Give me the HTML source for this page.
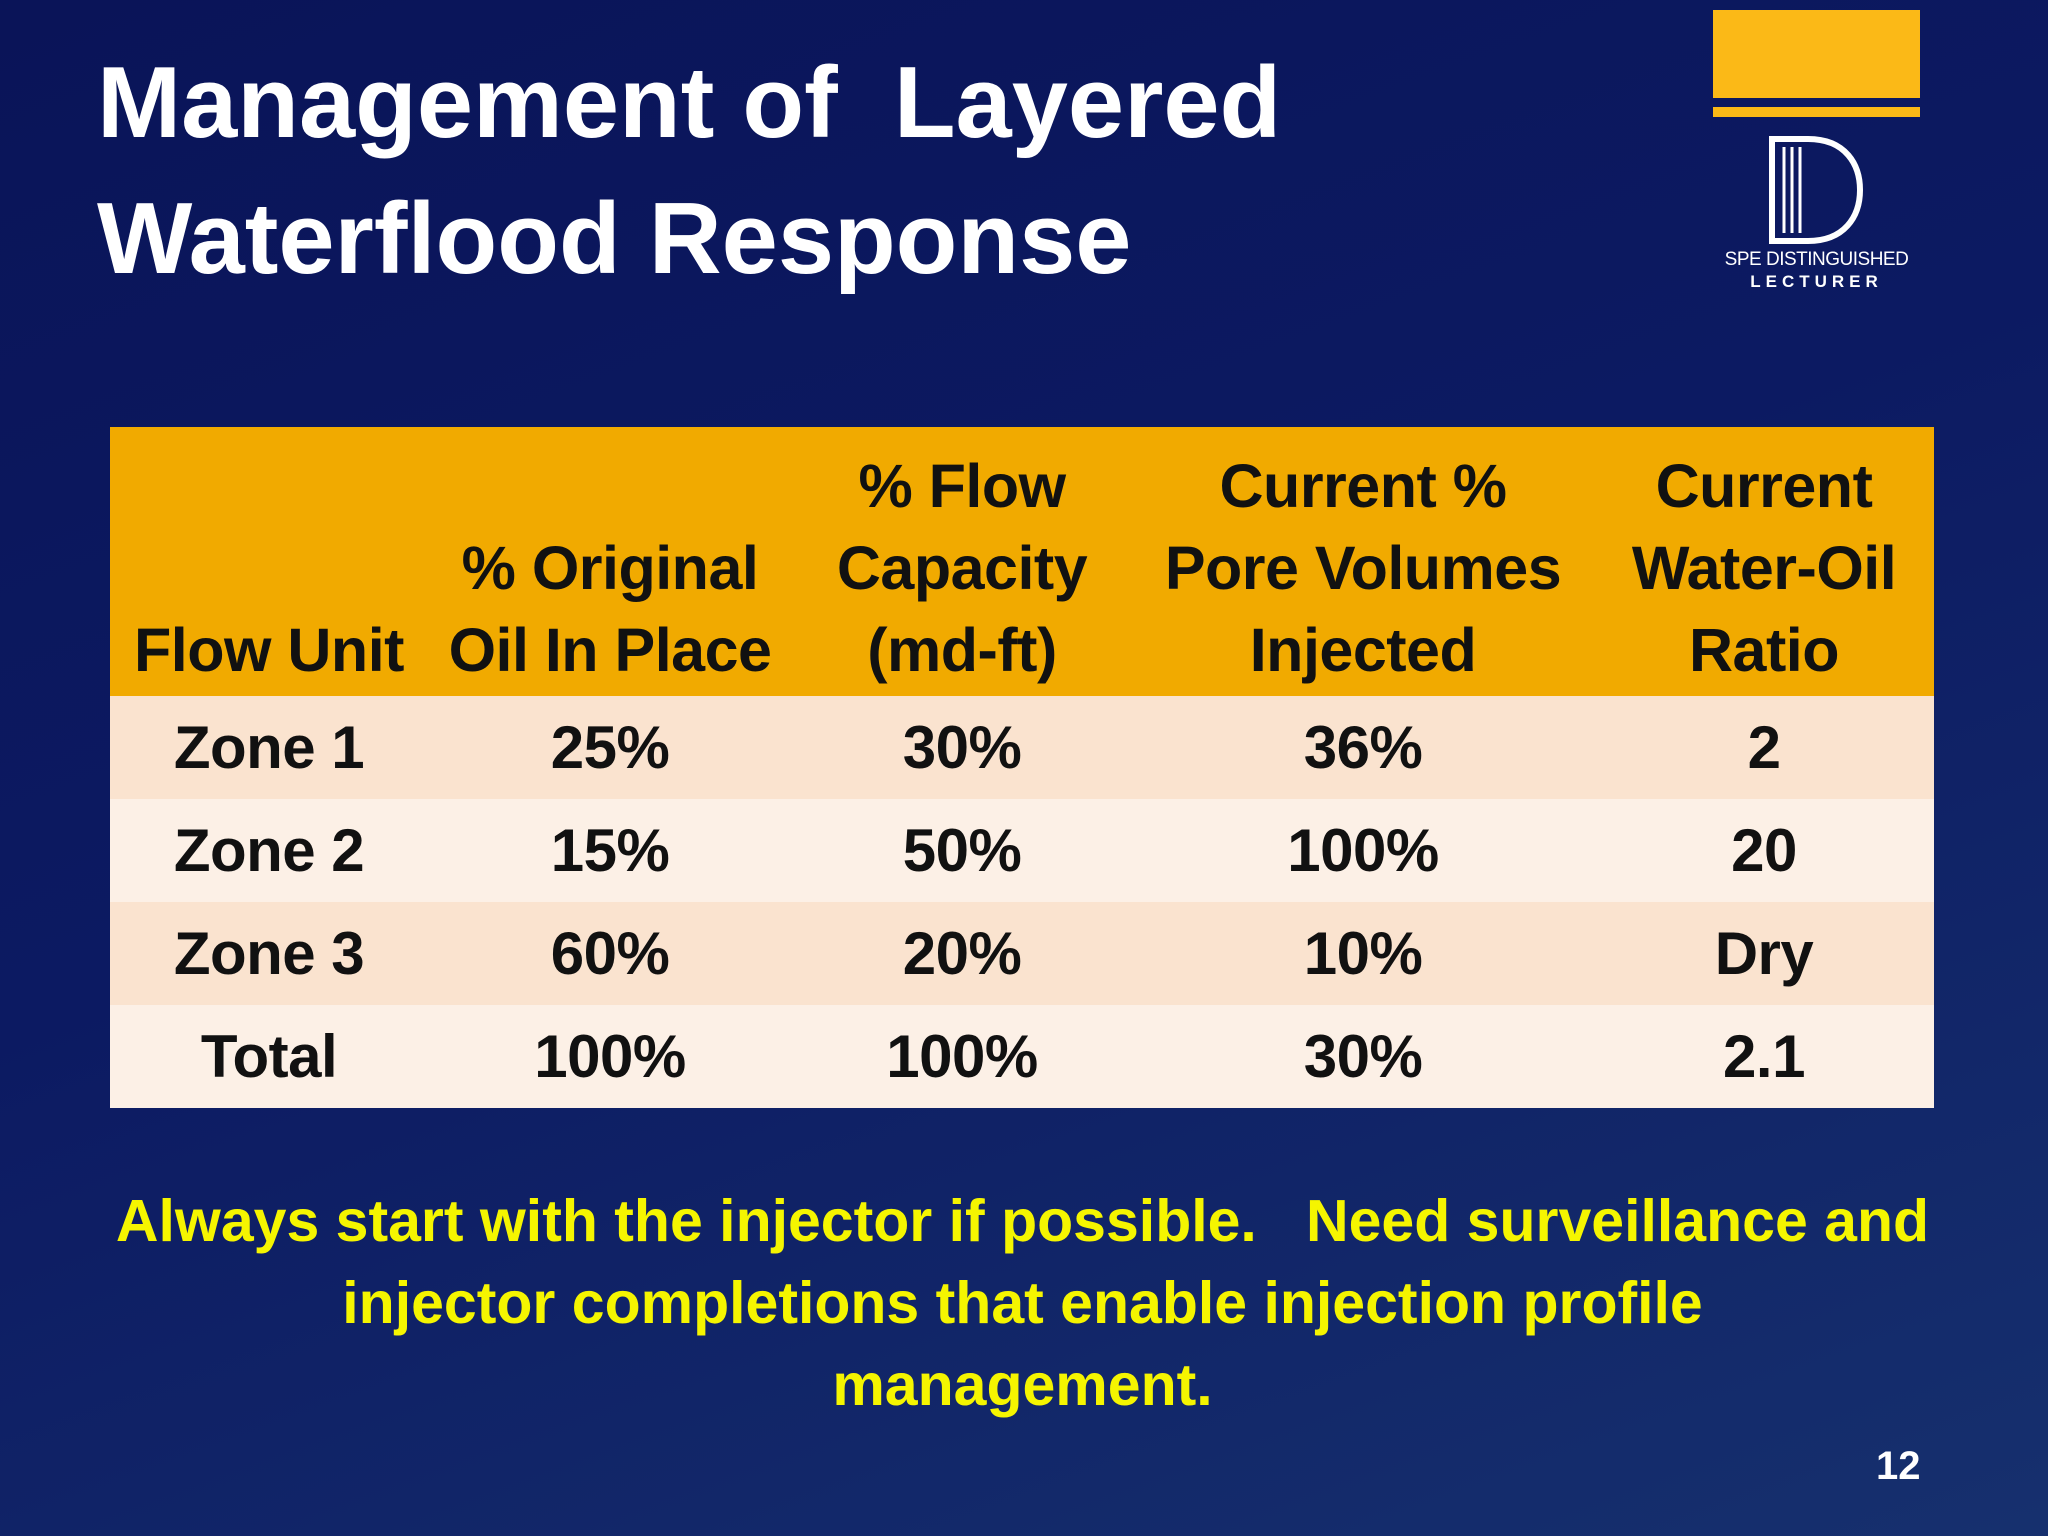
<!DOCTYPE html>
<html><head><meta charset="utf-8"><style>
html,body{margin:0;padding:0}
body{width:2048px;height:1536px;overflow:hidden;position:relative;font-family:"Liberation Sans",sans-serif;
background:linear-gradient(160deg,#0a1458 0%,#0c1a62 45%,#16306e 100%);}
.title{position:absolute;left:97px;color:#fff;font-weight:bold;font-size:101px;white-space:nowrap}
table{position:absolute;left:110px;top:427px;width:1824px;border-collapse:collapse;font-weight:bold;color:#111}
th{background:#f1aa00;font-size:61px;line-height:82px;vertical-align:bottom;padding:0 0 5px 0;height:269px;box-sizing:border-box;font-weight:bold;letter-spacing:-0.5px}
td{font-size:60px;text-align:center;height:103px;padding:0;letter-spacing:-0.5px}
tr.a td{background:#fae3cf}
tr.b td{background:#fcf0e6}
.note{position:absolute;left:40px;width:1965px;top:1180px;text-align:center;color:#f5f500;font-weight:bold;font-size:59px;line-height:82px}
</style></head><body>
<div class="title" style="top:46px">Management of&nbsp; Layered</div>
<div class="title" style="top:182px">Waterflood Response</div>
<div>
<div style="position:absolute;left:1713px;top:10px;width:207px;height:88px;background:#fbb917"></div>
<div style="position:absolute;left:1713px;top:107px;width:207px;height:10px;background:#fbb917"></div>
<svg style="position:absolute;left:1768px;top:135px" width="96" height="110" viewBox="0 0 96 110">
<path d="M4 4 H40 C78 4 92 30 92 55 C92 82 76 106 40 106 H4 Z" fill="none" stroke="#fff" stroke-width="6"/>
<path d="M16 12 V98 M24 12 V98 M32 12 V98" stroke="#fff" stroke-width="3"/>
</svg>
<div style="position:absolute;left:1700px;top:249px;width:233px;text-align:center;color:#fff;font-size:19px;letter-spacing:-0.5px">SPE DISTINGUISHED</div>
<div style="position:absolute;left:1700px;top:272px;width:233px;text-align:center;color:#fff;font-size:17px;font-weight:bold;letter-spacing:5px">LECTURER</div>
</div>
<table>
<colgroup><col style="width:318px"><col style="width:364px"><col style="width:340px"><col style="width:462px"><col style="width:340px"></colgroup>
<tr>
<th>Flow Unit</th>
<th>% Original<br>Oil In Place</th>
<th>% Flow<br>Capacity<br>(md-ft)</th>
<th>Current %<br>Pore Volumes<br>Injected</th>
<th>Current<br>Water-Oil<br>Ratio</th>
</tr>
<tr class="a"><td>Zone 1</td><td>25%</td><td>30%</td><td>36%</td><td>2</td></tr>
<tr class="b"><td>Zone 2</td><td>15%</td><td>50%</td><td>100%</td><td>20</td></tr>
<tr class="a"><td>Zone 3</td><td>60%</td><td>20%</td><td>10%</td><td>Dry</td></tr>
<tr class="b"><td>Total</td><td>100%</td><td>100%</td><td>30%</td><td>2.1</td></tr>
</table>
<div class="note">Always start with the injector if possible.&nbsp;&nbsp; Need surveillance and<br>injector completions that enable injection profile<br>management.</div>
<div style="position:absolute;left:1876px;top:1444px;color:#fff;font-weight:bold;font-size:40px">12</div>
</body></html>
